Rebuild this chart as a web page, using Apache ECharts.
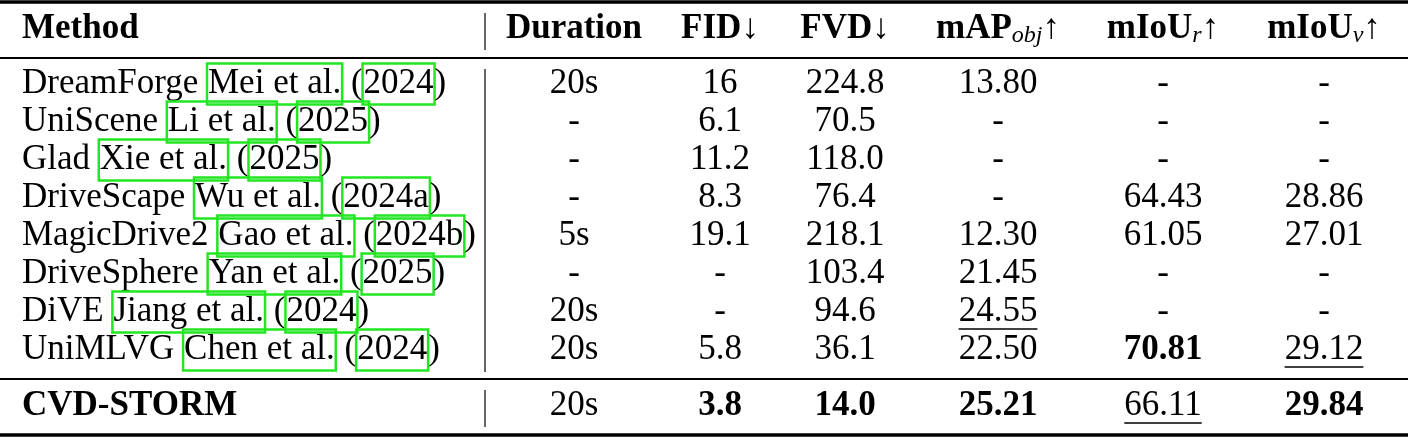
<!DOCTYPE html>
<html>
<head>
<meta charset="utf-8">
<script src="https://cdn.jsdelivr.net/npm/echarts@6/dist/echarts.min.js"></script>
<style>
  html, body { margin: 0; background: #fff; }
  #main { width: 1408px; height: 440px; }
</style>
</head>
<body>
<div id="main"></div>
<script>
// table data
const methods = ["DreamForge", "UniScene", "Glad", "DriveScape", "MagicDrive2", "DriveSphere", "DiVE", "UniMLVG"];
const authors = ["Mei et al.", "Li et al.", "Xie et al.", "Wu et al.", "Gao et al.", "Yan et al.", "Jiang et al.", "Chen et al."];
const years = ["2024", "2025", "2025", "2024a", "2024b", "2025", "2024", "2024"];
const duration = ["20s", "-", "-", "-", "5s", "-", "20s", "20s"];
const fid = ["16", "6.1", "11.2", "8.3", "19.1", "-", "-", "5.8"];
const fvd = ["224.8", "70.5", "118.0", "76.4", "218.1", "103.4", "94.6", "36.1"];
const mapObj = ["13.80", "-", "-", "-", "12.30", "21.45", "24.55", "22.50"];
const miouR = ["-", "-", "-", "64.43", "61.05", "-", "-", "70.81"];
const miouV = ["-", "-", "-", "28.86", "27.01", "-", "-", "29.12"];
const ours = ["CVD-STORM", "20s", "3.8", "14.0", "25.21", "66.11", "29.84"];
// marks: b = bold, u = underline (row index -> column index)
const bodyBold = { "7-5": true };
const bodyUnder = { "6-4": true, "7-6": true };
const oursBold = [true, false, true, true, true, false, true];
const oursUnder = [false, false, false, false, false, true, false];

const FONT = '"Liberation Serif", "DejaVu Serif", serif';
const SIZE = 35;
const colX = [22, 574, 720, 845, 998, 1163, 1324]; // first is left edge, rest are centers
const headerY = 29;
const rowY = [84, 122, 160, 198, 236, 274, 312, 350];
const oursY = 406;
const sepX = 485;

const ctx = document.createElement("canvas").getContext("2d");
function textWidth(s, bold) {
  ctx.font = (bold ? "bold " : "") + SIZE + "px " + FONT;
  return ctx.measureText(s).width;
}

const elements = [];
function cell(str, col, y, bold, under) {
  const align = col === 0 ? "left" : "center";
  elements.push({
    type: "text", x: colX[col], y: y,
    style: { text: str, font: (bold ? "bold " : "") + SIZE + "px " + FONT, fill: "#000", align: align, verticalAlign: "middle" }
  });
  if (under) {
    const w = textWidth(str, bold);
    elements.push({
      type: "line",
      shape: { x1: colX[col] - w / 2, y1: y + 17, x2: colX[col] + w / 2, y2: y + 17 },
      style: { stroke: "#000", lineWidth: 1.5 }
    });
  }
}
function rule(y, w) {
  elements.push({ type: "line", shape: { x1: 0, y1: y, x2: 1408, y2: y }, style: { stroke: "#000", lineWidth: w } });
}
function vsep(y1, y2) {
  elements.push({ type: "line", shape: { x1: sepX, y1: y1, x2: sepX, y2: y2 }, style: { stroke: "#000", lineWidth: 1.2 } });
}

// header
const rich = {
  b: { font: "bold " + SIZE + "px " + FONT, fill: "#000" },
  s: { font: "italic 24px " + FONT, fill: "#000", verticalAlign: "bottom", padding: [14, 0, 0, 0] },
  a: { font: SIZE + "px " + FONT, fill: "#000" }
};
const headers = ["{b|Method}", "{b|Duration}", "{b|FID}{a|↓}", "{b|FVD}{a|↓}", "{b|mAP}{s|obj}{a|↑}", "{b|mIoU}{s|r}{a|↑}", "{b|mIoU}{s|v}{a|↑}"];
headers.forEach((h, c) => {
  elements.push({
    type: "text", x: colX[c], y: headerY,
    style: { text: h, rich: rich, align: c === 0 ? "left" : "center", verticalAlign: "middle" }
  });
});

// method column with citation boxes
const methodRich = {
  n: { font: SIZE + "px " + FONT, fill: "#000" },
  box: { font: SIZE + "px " + FONT, fill: "#000", borderColor: "#22e622", borderWidth: 2.5, padding: [3, 1, 3, 1] }
};
methods.forEach((m, r) => {
  elements.push({
    type: "text", x: colX[0], y: rowY[r],
    style: {
      text: "{n|" + m + " }{box|" + authors[r] + "}{n| (}{box|" + years[r] + "}{n|)}",
      rich: methodRich, align: "left", verticalAlign: "middle"
    }
  });
});

const cols = [duration, fid, fvd, mapObj, miouR, miouV];
rowY.forEach((y, r) => {
  cols.forEach((arr, i) => {
    const c = i + 1;
    cell(arr[r], c, y, bodyBold[r + "-" + c], bodyUnder[r + "-" + c]);
  });
});
ours.forEach((v, c) => cell(v, c, oursY, oursBold[c], oursUnder[c]));

rule(2, 3.5);
rule(58, 2);
rule(379, 2);
rule(435, 3.5);
vsep(13, 50);
vsep(69, 372);
vsep(390, 427);

const chart = echarts.init(document.getElementById("main"));
chart.setOption({ animation: false, graphic: { elements: elements } });
</script>
</body>
</html>
